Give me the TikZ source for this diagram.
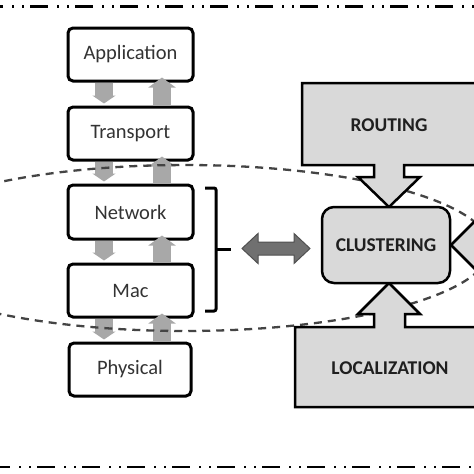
\documentclass[tikz,border=0pt]{standalone}
\usepackage{fontspec}
\setmainfont{Carlito}
\usetikzlibrary{arrows.meta}
\definecolor{txtgray}{HTML}{333333}
\definecolor{boxgray}{HTML}{D9D9D9}
\definecolor{arrgray}{HTML}{A8A8A8}
\definecolor{dkgray}{HTML}{707070}
\definecolor{dkline}{HTML}{505050}
\definecolor{dashgray}{HTML}{444444}
\begin{document}
\begin{tikzpicture}[x=1pt,y=-1pt,
  layer/.style={draw=black, line width=3pt, rounded corners=5pt, fill=white,
    minimum width=125pt, minimum height=53pt, inner sep=0pt, text=txtgray,
    font=\fontsize{20.5}{24}\selectfont},
  downarr/.style={draw=arrgray, line width=18pt, -{Triangle[width=23pt,length=8pt]}},
  uparr/.style={draw=arrgray, line width=18pt, -{Triangle[width=27pt,length=10pt]}},
  gbox/.style={draw=black, fill=boxgray, line width=2.5pt, line join=miter},
  bigtxt/.style={font=\bfseries\fontsize{19.5}{23}\selectfont, text=black!88, inner sep=0pt},
  border line/.style={draw=black, line width=2.5pt, dash pattern=on 18pt off 9pt on 2pt off 8pt on 2pt off 6pt}
]
\useasboundingbox (0,0) rectangle (474,474);
\clip (0,0) rectangle (474,474);
\fill[white] (0,0) rectangle (474,474);

% border lines
\coordinate (tl) at (0,6.5);
\coordinate (tr) at (474,6.5);
\coordinate (bl) at (0,467);
\coordinate (br) at (474,467);
\draw[border line, dash phase=15pt] (tl) -- (tr);
\draw[border line, dash phase=8pt] (bl) -- (br);

% protocol stack
\node[layer] (app) at (130.5,54.5) {Application};
\node[layer] (trans) at (130.5,133.5) {Transport};
\node[layer, minimum height=54pt] (net) at (130.5,212) {Network};
\node[layer] (mac) at (130.5,290.5) {Mac};
\node[layer, minimum width=122pt] (phy) at (130,369.5) {Physical};

\coordinate (dc) at (104,0);
\coordinate (uc) at (162,0);
\foreach \a/\b in {app/trans, trans/net, net/mac, mac/phy} {
  \draw[downarr] (\a.south -| dc) -- ([yshift=2pt]\b.north -| dc);
  \draw[uparr] (\b.north -| uc) -- ([yshift=5pt]\a.south -| uc);
}

% dashed ellipse
\draw[dashgray, line width=2.3pt, dash pattern=on 8pt off 6pt] (185,248) ellipse [x radius=305pt, y radius=83pt];

% bracket
\coordinate (bt) at (205,188);
\coordinate (bb) at (205,311);
\coordinate (bm) at (216,249);
\coordinate (bmr) at (231,249);
\draw[line width=3pt, rounded corners=2pt] (bt) -- (216,188) -- (216,311) -- (bb);
\draw[line width=3pt] (bm) -- (bmr);

% double arrow
\draw[fill=dkgray, draw=dkline, line width=1pt, line join=miter]
  (242,248.5) -- (258,233.5) -- (258,242) -- (294,242) -- (294,233.5) -- (310,248.5)
  -- (294,263.5) -- (294,255) -- (258,255) -- (258,263.5) -- cycle;

% routing callout
\draw[gbox] (302,83) -- (478,83) -- (478,165) -- (404,165) -- (404,177) -- (420,177)
  -- (389,207) -- (358,177) -- (374,177) -- (374,165) -- (302,165) -- cycle;
\node[bigtxt] (rout) at (389,125) {ROUTING};

% localization callout
\draw[gbox] (295,327) -- (374,327) -- (374,314) -- (358,314) -- (389,283) -- (420,314)
  -- (405,314) -- (405,327) -- (478,327) -- (478,407) -- (295,407) -- cycle;
\node[bigtxt] (loc) at (390,368) {LOCALIZATION};

% right callout (cut off)
\draw[gbox] (451,245) -- (481,215) -- (481,275) -- cycle;

% clustering
\node[draw=black, fill=boxgray, line width=2.5pt, rounded corners=12pt,
  minimum width=128pt, minimum height=76pt, inner sep=0pt,
  font=\bfseries\fontsize{19.5}{23}\selectfont, text=black!88] (clus) at (386,245) {CLUSTERING};
\end{tikzpicture}
\end{document}
